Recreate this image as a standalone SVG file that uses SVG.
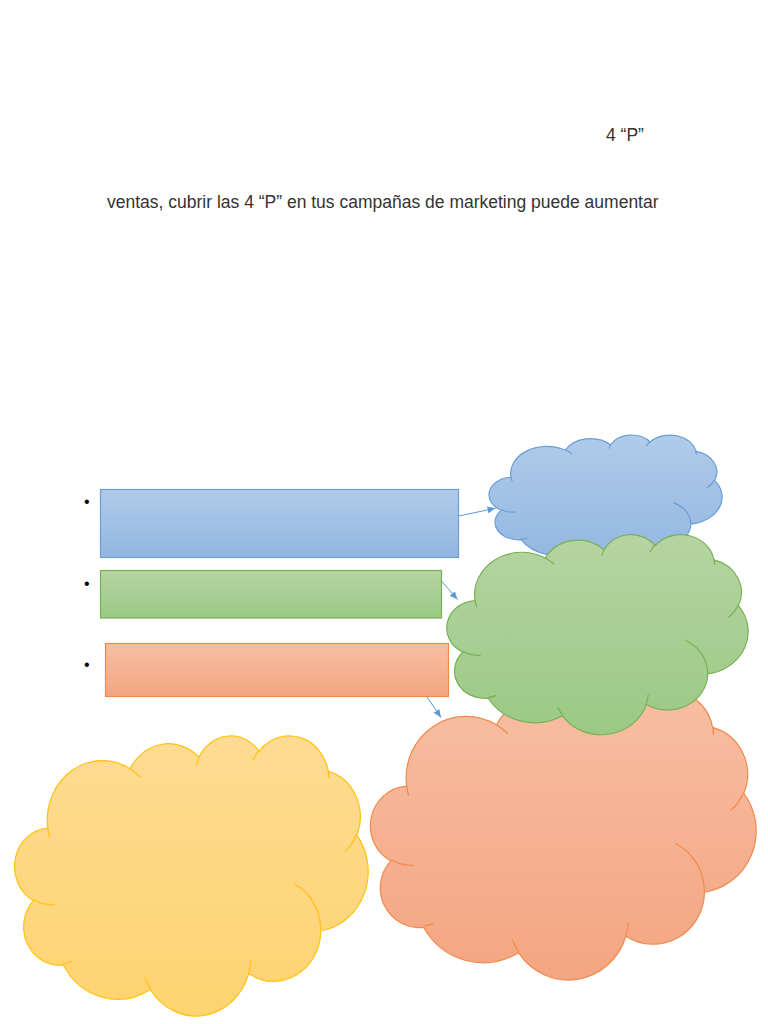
<svg xmlns="http://www.w3.org/2000/svg" xmlns:xlink="http://www.w3.org/1999/xlink" width="768" height="1024" viewBox="0 0 768 1024">
<defs>
<style>
.t{font-family:"Liberation Sans",Arial,sans-serif;font-size:17.5px;fill:#333}
.bl{font-family:"Liberation Sans",Arial,sans-serif;font-size:16px;fill:#000}
.conn line{stroke:#5b9bd5;stroke-width:1;marker-end:url(#ah)}
.r{stroke-width:1.2}
</style>
<linearGradient id="gB" x1="0" y1="0" x2="0" y2="1"><stop offset="0" stop-color="#b1cbe9"/><stop offset="1" stop-color="#92b6e1"/></linearGradient>
<linearGradient id="gG" x1="0" y1="0" x2="0" y2="1"><stop offset="0" stop-color="#b5d4a2"/><stop offset="1" stop-color="#9bc985"/></linearGradient>
<linearGradient id="gO" x1="0" y1="0" x2="0" y2="1"><stop offset="0" stop-color="#f7bea2"/><stop offset="1" stop-color="#f4a581"/></linearGradient>
<linearGradient id="gY" x1="0" y1="0" x2="0" y2="1"><stop offset="0" stop-color="#fedb93"/><stop offset="1" stop-color="#fed370"/></linearGradient>
<path id="co" vector-effect="non-scaling-stroke" stroke-width="1.2" d="M3900,14370 A6753,9190 0 0 1 14006,5203 A5333,7267 0 0 1 22457,3432 A4365,5945 0 0 1 29834,2481 A4857,6595 0 0 1 38319,5576 A5333,7273 0 0 1 41819,15460 A6775,9220 0 0 1 37405,30203 A5785,7867 0 0 1 28556,36813 A6752,9215 0 0 1 16481,39264 A7720,10543 0 0 1 5806,35471 A4360,5918 0 0 1 2115,25548 A4345,5945 0 0 1 3900,14370 Z"/>
<path id="ci" vector-effect="non-scaling-stroke" stroke-width="1.2" fill="none" d="M4693,26177 A4345,5945 0 0 1 2160,25380 M6928,34899 A4360,5918 0 0 1 5819,35281 M16478,39090 A6752,9215 0 0 1 15810,37351 M28827,34751 A6752,9215 0 0 1 28560,36660 M34129,22954 A5785,7867 0 0 1 37381,30090 M41798,15354 A5333,7273 0 0 1 40350,18030 M38324,5426 A4857,6595 0 0 1 38400,6689 M29078,3952 A4857,6595 0 0 1 29820,2340 M22141,4720 A4365,5945 0 0 1 22500,3330 M14000,5192 A6753,9190 0 0 1 15300,6541 M4127,15789 A6753,9190 0 0 1 3901,14371"/>
<marker id="ah" markerWidth="9" markerHeight="8" refX="8" refY="4" orient="auto" markerUnits="userSpaceOnUse"><path d="M0,0.5 L8,4 L0,7.5 z" fill="#5b9bd5"/></marker>
</defs>
<rect width="768" height="1024" fill="#fff"/>
<text class="t" x="606" y="141">4 “P”</text>
<text class="t" x="107" y="208">ventas, cubrir las 4 “P” en tus campañas de marketing puede aumentar</text>
<g id="bullets">
<text class="bl" x="84" y="507">•</text>
<text class="bl" x="84" y="589">•</text>
<text class="bl" x="84" y="670">•</text>
</g>
<g id="rect-blue"><rect class="r" x="100.5" y="489.5" width="358" height="68" fill="url(#gB)" stroke="#6a9fd6"/></g>
<g id="rect-green"><rect class="r" x="100.5" y="570.5" width="341" height="47.5" fill="url(#gG)" stroke="#78b054"/></g>
<g id="rect-orange"><rect class="r" x="105.5" y="643.5" width="343" height="53" fill="url(#gO)" stroke="#f08a4b"/></g>
<g id="cloud-yellow" transform="translate(16,735) scale(0.0081481,0.0064815)">
<use href="#co" fill="url(#gY)" stroke="#ffc20e"/>
<use href="#ci" stroke="#ffc20e"/>
</g>
<g id="cloud-orange" transform="translate(372,690) scale(0.0088889,0.0066898)">
<use href="#co" fill="url(#gO)" stroke="#f08a4b"/>
<use href="#ci" stroke="#f08a4b"/>
</g>
<g id="cloud-blue" transform="translate(490,434.6) scale(0.0053704,0.0029630)">
<use href="#co" fill="url(#gB)" stroke="#6a9fd6"/>
<use href="#ci" stroke="#6a9fd6"/>
</g>
<g id="cloud-green" transform="translate(448,534) scale(0.0069444,0.0046296)">
<use href="#co" fill="url(#gG)" stroke="#78b054"/>
<use href="#ci" stroke="#78b054"/>
</g>
<g id="connectors" class="conn">
<line x1="458.5" y1="516" x2="495.5" y2="508.3"/>
<line x1="441.5" y1="581" x2="457.5" y2="599.5"/>
<line x1="427" y1="697" x2="441" y2="717.5"/>
</g>
</svg>
